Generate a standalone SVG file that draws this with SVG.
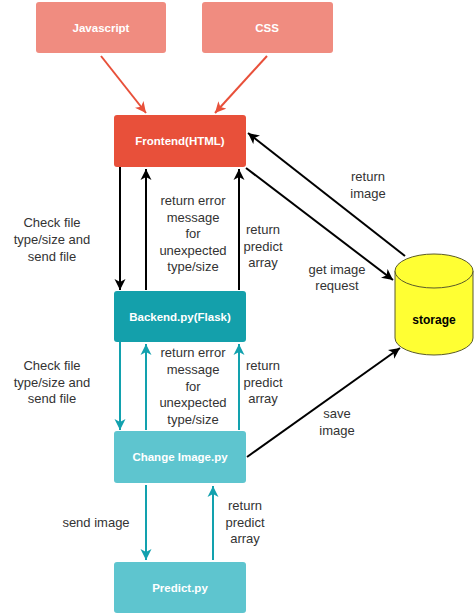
<svg xmlns="http://www.w3.org/2000/svg" width="474" height="616" viewBox="0 0 474 616">
<defs>
<style>
.lbl{font-family:"Liberation Sans",Arial,sans-serif;font-size:13px;fill:#333;text-anchor:middle}
.nt{font-family:"Liberation Sans",Arial,sans-serif;font-size:11.5px;font-weight:bold;fill:#fff;text-anchor:middle}
.blk{stroke:#000;stroke-width:2;fill:none}
.red{stroke:#E8503A;stroke-width:2;fill:none}
.teal{stroke:#12A1AE;stroke-width:2;fill:none}
</style>
<marker id="mb" markerUnits="userSpaceOnUse" markerWidth="12" markerHeight="12" viewBox="0 0 12 12" refX="11" refY="6" orient="auto"><path d="M0,0.5 L11,6 L0,11.5 L3,6 z" fill="#000"/></marker>
<marker id="mr" markerUnits="userSpaceOnUse" markerWidth="12" markerHeight="12" viewBox="0 0 12 12" refX="11" refY="6" orient="auto"><path d="M0,0.5 L11,6 L0,11.5 L3,6 z" fill="#E8503A"/></marker>
<marker id="mt" markerUnits="userSpaceOnUse" markerWidth="12" markerHeight="12" viewBox="0 0 12 12" refX="11" refY="6" orient="auto"><path d="M0,0.5 L11,6 L0,11.5 L3,6 z" fill="#12A1AE"/></marker>
</defs>
<rect width="474" height="616" fill="#fff"/>
<g id="connectors">
<line class="red" x1="101" y1="56" x2="146" y2="113" marker-end="url(#mr)"/>
<line class="red" x1="267" y1="56" x2="215" y2="113" marker-end="url(#mr)"/>
<line class="blk" x1="120" y1="167" x2="120" y2="290" marker-end="url(#mb)"/>
<line class="blk" x1="146" y1="290" x2="146" y2="169" marker-end="url(#mb)"/>
<line class="blk" x1="239" y1="290" x2="239" y2="169" marker-end="url(#mb)"/>
<line class="blk" x1="246" y1="168" x2="393" y2="280" marker-end="url(#mb)"/>
<line class="blk" x1="405" y1="256" x2="248" y2="133" marker-end="url(#mb)"/>
<line class="blk" x1="247" y1="457" x2="400" y2="348" marker-end="url(#mb)"/>
<line class="teal" x1="120" y1="342" x2="120" y2="430" marker-end="url(#mt)"/>
<line class="teal" x1="146" y1="430" x2="146" y2="344" marker-end="url(#mt)"/>
<line class="teal" x1="239" y1="430" x2="239" y2="344" marker-end="url(#mt)"/>
<line class="teal" x1="146" y1="485" x2="146" y2="560" marker-end="url(#mt)"/>
<line class="teal" x1="213" y1="560" x2="213" y2="486" marker-end="url(#mt)"/>
</g>
<g id="labels">
<text class="lbl" x="52" y="227">Check file</text>
<text class="lbl" x="52" y="244">type/size and</text>
<text class="lbl" x="52" y="261">send file</text>
<text class="lbl" x="193" y="205">return error</text>
<text class="lbl" x="193" y="222">message</text>
<text class="lbl" x="193" y="238">for</text>
<text class="lbl" x="193" y="255">unexpected</text>
<text class="lbl" x="193" y="271">type/size</text>
<text class="lbl" x="263" y="234">return</text>
<text class="lbl" x="263" y="251">predict</text>
<text class="lbl" x="263" y="267">array</text>
<text class="lbl" x="368" y="181">return</text>
<text class="lbl" x="368" y="198">image</text>
<text class="lbl" x="337" y="274">get image</text>
<text class="lbl" x="337" y="290">request</text>
<text class="lbl" x="52" y="370">Check file</text>
<text class="lbl" x="52" y="387">type/size and</text>
<text class="lbl" x="52" y="403">send file</text>
<text class="lbl" x="193" y="357">return error</text>
<text class="lbl" x="193" y="374">message</text>
<text class="lbl" x="193" y="391">for</text>
<text class="lbl" x="193" y="407">unexpected</text>
<text class="lbl" x="193" y="424">type/size</text>
<text class="lbl" x="263" y="370">return</text>
<text class="lbl" x="263" y="387">predict</text>
<text class="lbl" x="263" y="403">array</text>
<text class="lbl" x="337" y="418">save</text>
<text class="lbl" x="337" y="435">image</text>
<text class="lbl" x="96" y="527">send image</text>
<text class="lbl" x="245" y="510">return</text>
<text class="lbl" x="245" y="527">predict</text>
<text class="lbl" x="245" y="543">array</text>
</g>
<g id="javascript">
<rect x="36" y="2" width="130" height="51" rx="3" fill="#F08C80"/>
<text class="nt" x="101" y="32">Javascript</text>
</g>
<g id="css">
<rect x="202" y="2" width="131" height="51" rx="3" fill="#F08C80"/>
<text class="nt" x="267" y="32">CSS</text>
</g>
<g id="frontend">
<rect x="114" y="115" width="132" height="52" rx="3" fill="#E8503A"/>
<text class="nt" x="180" y="145">Frontend(HTML)</text>
</g>
<g id="backend">
<rect x="114" y="291" width="132" height="51" rx="3" fill="#14A0AB"/>
<text class="nt" x="180" y="321">Backend.py(Flask)</text>
</g>
<g id="change-image">
<rect x="114" y="431" width="132" height="52" rx="3" fill="#5EC5CF"/>
<text class="nt" x="180" y="461">Change Image.py</text>
</g>
<g id="predict">
<rect x="114" y="562" width="132" height="51" rx="3" fill="#5EC5CF"/>
<text class="nt" x="180" y="592">Predict.py</text>
</g>
<g id="storage">
<path d="M395,271 L395,338 A39,17 0 0 0 473,338 L473,271" fill="#FFFF33" stroke="#5a5a2a" stroke-width="1"/>
<ellipse cx="434" cy="271" rx="39" ry="17" fill="#FFFF33" stroke="#5a5a2a" stroke-width="1"/>
<text x="434" y="324" style="font-family:'Liberation Sans',Arial,sans-serif;font-size:12px;font-weight:bold;fill:#000;text-anchor:middle">storage</text>
</g>
</svg>
